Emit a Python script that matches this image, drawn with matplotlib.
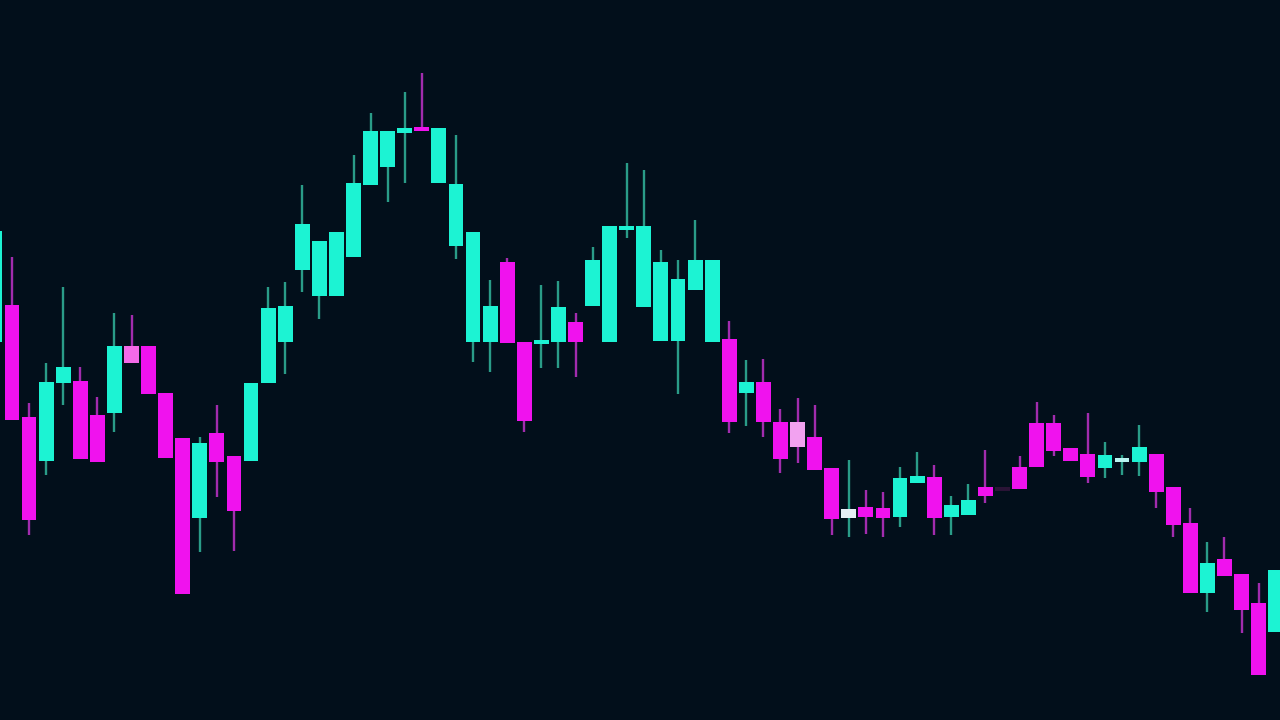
import numpy as np
import matplotlib
matplotlib.use('Agg')
import matplotlib.pyplot as plt

# ── Candle data (one session per index) ──
opens = [378, 415, 303, 259, 337, 339, 305, 307, 374, 374,
         327, 282, 202, 287, 264, 259, 337, 378, 450, 424,
         424, 463, 535, 553, 587, 591, 537, 474, 378, 378,
         458, 378, 376, 378, 398, 414, 378, 490, 413, 379,
         379, 430, 378, 381, 327, 338, 298, 298, 283, 252,
         202, 213, 212, 203, 237, 243, 203, 205, 233, 231,
         253, 297, 297, 272, 266, 252, 258, 258, 266, 233,
         197, 127, 161, 146, 117, 88]
highs = [489, 463, 317, 357, 433, 353, 323, 407, 405, 374,
         327, 282, 283, 315, 264, 337, 433, 438, 535, 479,
         488, 565, 607, 589, 628, 647, 592, 585, 488, 440,
         462, 378, 435, 439, 407, 473, 494, 557, 550, 470,
         460, 500, 460, 399, 360, 361, 311, 322, 315, 252,
         260, 230, 228, 253, 268, 255, 224, 236, 270, 231,
         264, 318, 305, 272, 307, 278, 265, 295, 266, 233,
         212, 178, 183, 146, 137, 150]
lows = [378, 300, 185, 245, 315, 261, 258, 288, 357, 326,
        262, 126, 168, 223, 169, 259, 337, 346, 428, 401,
        424, 463, 535, 518, 537, 589, 537, 461, 358, 348,
        377, 288, 352, 352, 343, 414, 378, 482, 413, 379,
        326, 430, 378, 287, 294, 283, 247, 257, 250, 185,
        183, 186, 183, 193, 237, 185, 185, 205, 217, 229,
        231, 253, 264, 259, 237, 242, 245, 244, 212, 183,
        127, 108, 144, 87, 45, 88]
closes = [489, 300, 200, 338, 353, 261, 258, 374, 357, 326,
          262, 126, 277, 258, 209, 337, 412, 414, 496, 479,
          488, 537, 589, 589, 592, 589, 592, 536, 488, 414,
          377, 299, 380, 413, 378, 460, 494, 494, 494, 458,
          441, 460, 460, 298, 338, 298, 261, 273, 250, 201,
          211, 203, 202, 242, 244, 202, 215, 220, 224, 229,
          231, 253, 269, 259, 243, 265, 262, 273, 228, 195,
          127, 157, 144, 110, 45, 150]

# faded candles seen in the picture (index -> body colour)
faded = {8: '#f46ae8', 47: '#f2a2f0', 50: '#e6eef4', 59: '#2a1436',
         66: '#b8f4f0'}

BG = '#020f1b'
UP, DOWN = '#1cf3d3', '#f012ee'
UP_WICK, DOWN_WICK = '#2a9c88', '#a22cae'

o = np.array(opens, dtype=float)
h = np.array(highs, dtype=float)
l = np.array(lows, dtype=float)
c = np.array(closes, dtype=float)
x = np.arange(len(o))
up = c >= o

body_colors = [faded.get(i, UP if u else DOWN) for i, u in enumerate(up)]
wick_colors = [UP_WICK if u else DOWN_WICK for u in up]

fig = plt.figure(figsize=(12.8, 7.2), dpi=100, facecolor=BG)
ax = fig.add_axes([0, 0, 1, 1])
ax.set_facecolor(BG)

# ── wicks behind, bodies on top ──
ax.vlines(x, l, h, colors=wick_colors, linewidth=1.7, zorder=1)
bottoms = np.minimum(o, c)
heights = np.maximum(np.abs(c - o), 4)
ax.bar(x, heights, bottom=bottoms, width=0.87, color=body_colors,
       linewidth=0, zorder=2)

ax.set_xlim(0.3, 75.25)
ax.set_ylim(0, 720)
ax.axis('off')

fig.savefig('out.png', dpi=100, facecolor=BG)
